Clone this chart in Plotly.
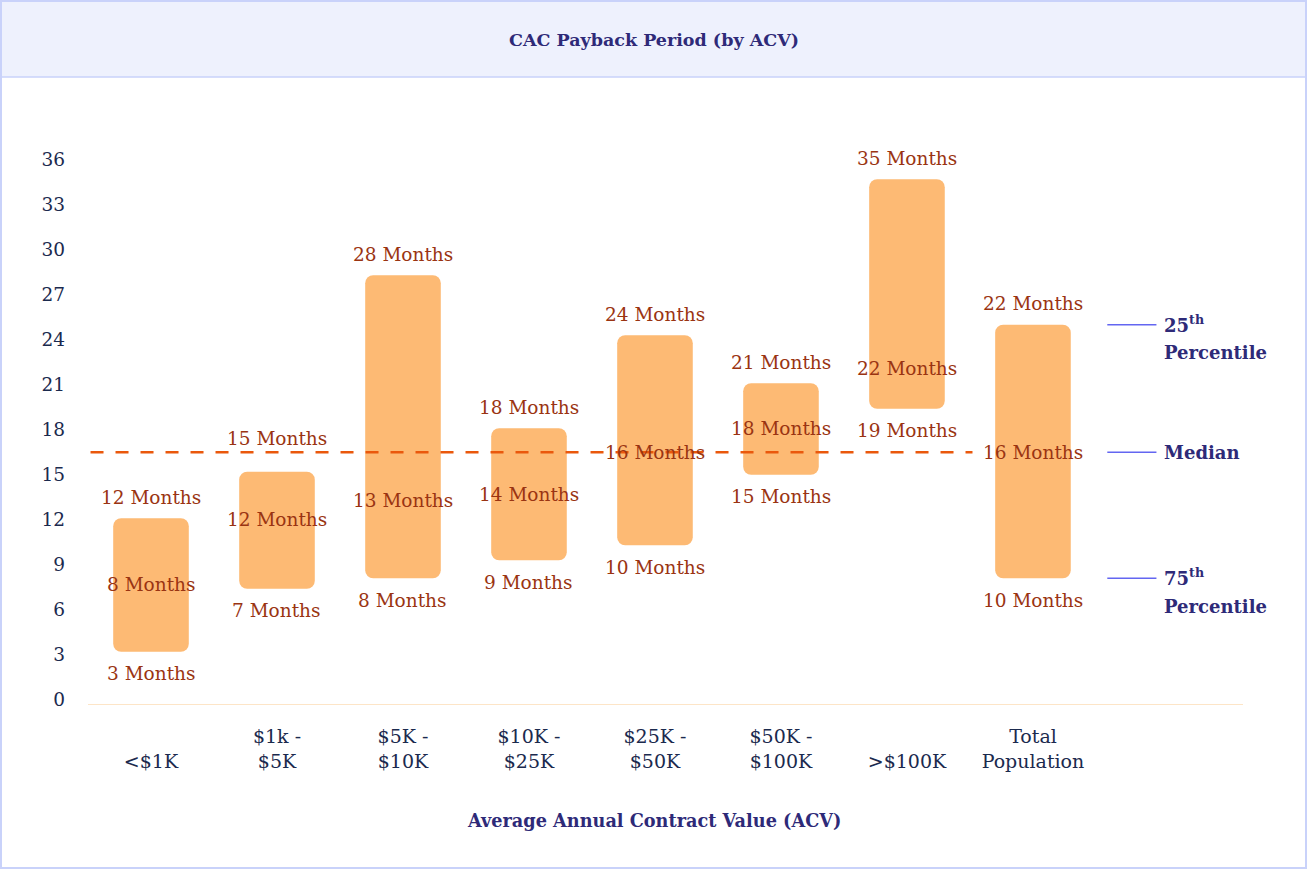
import plotly.graph_objects as go

# categorias ACV
categories = ["<$1K", "$1k - $5K", "$5K - $10K", "$10K - $25K", "$25K - $50K",
              "$50K - $100K", ">$100K", "Total Population"]
# linea vacia invisible para alinear abajo las etiquetas de una sola linea
blank = "<span style='color:rgba(0,0,0,0)'>-</span>"
tick_labels = [blank + "<br>&lt;$1K", "$1k -<br>$5K", "$5K -<br>$10K", "$10K -<br>$25K",
               "$25K -<br>$50K", "$50K -<br>$100K", blank + "<br>&gt;$100K", "Total<br>Population"]

# extremos de las barras (meses)
bar_low = [3.2, 7.4, 8.1, 9.3, 10.3, 15.0, 19.4, 8.1]
bar_high = [12.1, 15.2, 28.3, 18.1, 24.3, 21.1, 34.7, 25.0]

# etiquetas: percentil 75 (arriba), mediana, percentil 25 (abajo)
top_months = [12, 15, 28, 18, 24, 21, 35, 22]
mid_months = [8, 12, 13, 14, 16, 18, 22, 16]
low_months = [3, 7, 8, 9, 10, 15, 19, 10]
mid_pos = [7.7, 12.0, 13.3, 13.7, 16.5, 18.1, 22.1, 16.5]

median_all = 16.5

W, H = 1308, 871
L, R, T, B = 88, 65, 135, 166

def py(px):
    # pixel vertical -> coordenada paper
    return 1 - (px - T) / (H - T - B)

def pxx(px):
    return (px - L) / (W - L - R)

SERIF = "DejaVu Serif"
NAVY = "#2e2a78"
LABEL = "#9a3412"
TICK = "#1b2a4e"

fig = go.Figure()
fig.add_trace(go.Bar(
    x=list(range(len(categories))),
    y=[h - l for h, l in zip(bar_high, bar_low)],
    base=bar_low,
    width=0.6,
    marker=dict(color="#fdba74", line=dict(width=0)),
    hoverinfo="skip",
))

lab_font = dict(family=SERIF, size=18.5, color=LABEL)
ann = []
for i in range(len(categories)):
    shift_top = 33 if i == 1 else 21
    ann.append(dict(x=i, y=bar_high[i], text=f"{top_months[i]} Months", yshift=shift_top,
                    showarrow=False, font=lab_font))
    ann.append(dict(x=i, y=mid_pos[i], text=f"{mid_months[i]} Months",
                    showarrow=False, font=lab_font))
    ann.append(dict(x=i, y=bar_low[i], text=f"{low_months[i]} Months", yshift=-22,
                    showarrow=False, font=lab_font))

# leyenda a la derecha
legend_items = [(bar_high[-1], "25<sup>th</sup>", "Percentile"),
                (median_all, "Median", None),
                (bar_low[-1], "75<sup>th</sup>", "Percentile")]
leg_font = dict(family=SERIF, size=18, color=NAVY)
shapes = []
for yv, l1, l2 in legend_items:
    shapes.append(dict(type="line", xref="x", yref="y", x0=7.59, x1=7.98, y0=yv, y1=yv,
                       line=dict(color="#6366f1", width=1.5)))
    ann.append(dict(x=7.98, y=yv, text="<b>" + l1 + "</b>", xanchor="left", yanchor="middle",
                    xshift=6, yshift=0 if l2 is None else 1, showarrow=False, font=leg_font))
    if l2:
        ann.append(dict(x=7.98, y=yv, text="<b>" + l2 + "</b>", xanchor="left", yanchor="middle",
                        xshift=6, yshift=-28, showarrow=False, font=leg_font))

# linea de mediana
shapes.append(dict(type="line", xref="x", yref="y", x0=-0.48, x1=6.52, y0=median_all, y1=median_all,
                   line=dict(color="#ea580c", width=2.5, dash="13px,12px")))

# cabecera y marco
shapes.append(dict(type="rect", xref="paper", yref="paper", x0=pxx(0), x1=pxx(1306),
                   y0=py(77), y1=py(0), fillcolor="#eef1fd", line=dict(width=0), layer="below"))
shapes.append(dict(type="line", xref="paper", yref="paper", x0=pxx(0), x1=pxx(1306),
                   y0=py(77), y1=py(77), line=dict(color="#c9d2fa", width=1.5)))
shapes.append(dict(type="rect", xref="paper", yref="paper", x0=pxx(1), x1=pxx(1306),
                   y0=py(868), y1=py(1), line=dict(color="#c9d2fa", width=2)))

ann.append(dict(xref="paper", yref="paper", x=pxx(654), y=py(40), text="<b>CAC Payback Period (by ACV)</b>",
                xanchor="center", yanchor="middle", showarrow=False,
                font=dict(family=SERIF, size=17.5, color=NAVY)))
ann.append(dict(xref="paper", yref="paper", x=pxx(654), y=py(820),
                text="<b>Average Annual Contract Value (ACV)</b>",
                xanchor="center", yanchor="middle", showarrow=False,
                font=dict(family=SERIF, size=17.7, color=NAVY)))

fig.update_layout(
    width=W, height=H,
    margin=dict(l=L, r=R, t=T, b=B),
    paper_bgcolor="white", plot_bgcolor="white",
    showlegend=False,
    barcornerradius=8,
    shapes=shapes, annotations=ann,
    font=dict(family=SERIF, color=TICK),
)
fig.update_xaxes(range=[-0.5, 8.667], tickvals=list(range(len(categories))), ticktext=tick_labels,
                 showgrid=False, zeroline=False, showline=False, ticks="",
                 ticklabelstandoff=18, tickfont=dict(size=19, color=TICK, family=SERIF))
fig.update_yaxes(range=[-0.35, 37.65], tickvals=list(range(0, 37, 3)), showgrid=False,
                 zeroline=False, showline=False, ticks="", ticklabelstandoff=22,
                 tickfont=dict(size=18.5, color=TICK, family=SERIF))
# linea base
fig.add_shape(type="line", xref="x", yref="y", x0=-0.5, x1=8.667, y0=-0.35, y1=-0.35,
              line=dict(color="#fddcb4", width=1.5))

# quitar el margen del body para que la figura ocupe toda la ventana
fig.write_html("out.html", config={"displayModeBar": False},
               post_script="document.body.style.margin='0';")
